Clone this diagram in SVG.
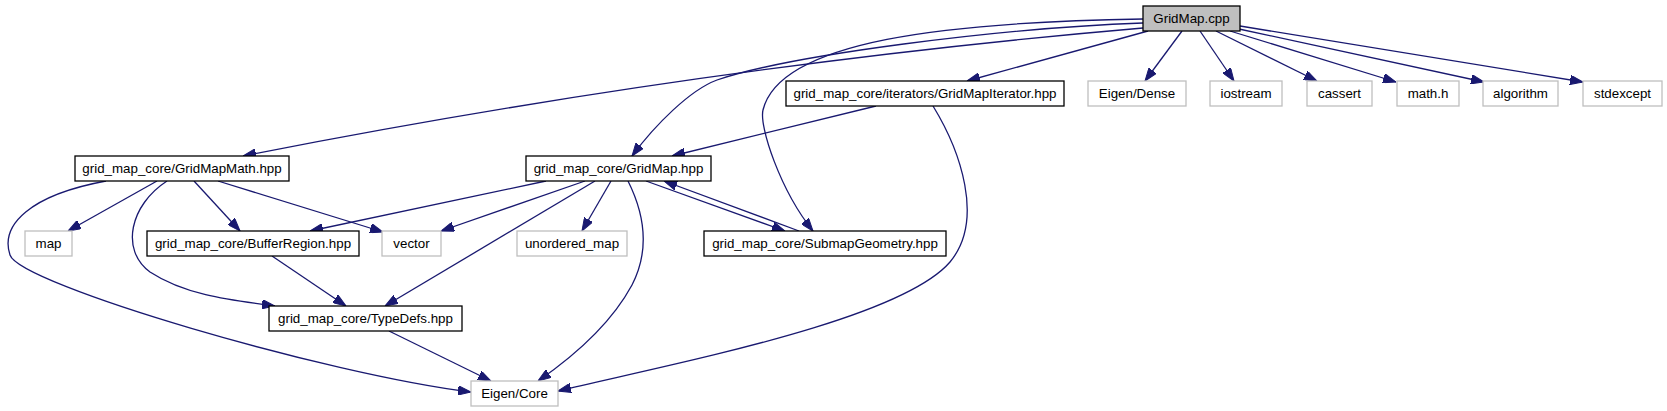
<svg xmlns="http://www.w3.org/2000/svg" width="1667" height="411" viewBox="0 0 1667 411">
<defs>
<style>
.n rect{fill:#ffffff;stroke:#000000;stroke-width:1.3}
.g rect{fill:#ffffff;stroke:#bfbfbf;stroke-width:1.3}
.root rect{fill:#bfbfbf;stroke:#000000;stroke-width:1.3}
text{font-family:"Liberation Sans",Arial,Helvetica,sans-serif;font-size:13.33px;fill:#000000;text-anchor:middle}
.e path{fill:none;stroke:#191970;stroke-width:1.3;marker-end:url(#arr)}
</style>
<marker id="arr" markerUnits="userSpaceOnUse" viewBox="0 0 13 9.4" refX="13" refY="4.7" markerWidth="13" markerHeight="9.4" orient="auto">
<path d="M0,0 L13,4.7 L0,9.4 z" fill="#191970" stroke="#191970" stroke-width="1"/>
</marker>
</defs>
<rect width="1667" height="411" fill="#ffffff"/>
<g id="edges" class="e">
<path d="M1182,31 L1145,81"/>
<path d="M1200,31 L1234,81"/>
<path d="M1216,31 L1317,81"/>
<path d="M1230,31 L1396,82"/>
<path d="M1239,29 L1484,82"/>
<path d="M1240,26 L1583,82"/>
<path d="M1148,31 L967,81"/>
<path d="M1143,28 Q700,66 243,156"/>
<path d="M1143,23 C1000,28 790,55 717,80 C690,90 655,125 632,156"/>
<path d="M1143,19 C950,22 780,40 763,110 C759,126 780,190 813,231"/>
<path d="M876,106 L672,156"/>
<path d="M933,106 C960,150 985,220 950,262 C900,320 680,362 558,391"/>
<path d="M157,181 L68,231"/>
<path d="M194,181 L240,231"/>
<path d="M218,181 L383,232"/>
<path d="M167,181 C130,205 120,250 150,272 C185,295 230,300 275,306"/>
<path d="M106,181 C30,195 0,225 10,255 C20,285 330,375 471,392"/>
<path d="M546,181 L310,231"/>
<path d="M585,181 L441,231"/>
<path d="M611,181 L582,231"/>
<path d="M595,181 L385,306"/>
<path d="M628,181 C645,215 650,250 632,285 C612,322 580,352 538,381"/>
<path d="M646,181 L785,231"/>
<path d="M799,231 L664,181"/>
<path d="M272,256 L346,306"/>
<path d="M389,331 L491,381"/>
</g>
<g id="n_cpp" class="root"><rect x="1143" y="6" width="97" height="25"/><text x="1191.5" y="23">GridMap.cpp</text></g>
<g id="n_iter" class="n"><rect x="786" y="81" width="278" height="25"/><text x="925" y="98">grid_map_core/iterators/GridMapIterator.hpp</text></g>
<g id="n_dense" class="g"><rect x="1088" y="81" width="98" height="25"/><text x="1137" y="98">Eigen/Dense</text></g>
<g id="n_iostream" class="g"><rect x="1210" y="81" width="72" height="25"/><text x="1246" y="98">iostream</text></g>
<g id="n_cassert" class="g"><rect x="1307" y="81" width="65" height="25"/><text x="1339.5" y="98">cassert</text></g>
<g id="n_math" class="g"><rect x="1397" y="81" width="62" height="25"/><text x="1428" y="98">math.h</text></g>
<g id="n_algorithm" class="g"><rect x="1483" y="81" width="75" height="25"/><text x="1520.5" y="98">algorithm</text></g>
<g id="n_stdexcept" class="g"><rect x="1583" y="81" width="79" height="25"/><text x="1622.5" y="98">stdexcept</text></g>
<g id="n_gmmath" class="n"><rect x="75" y="156" width="214" height="25"/><text x="182" y="173">grid_map_core/GridMapMath.hpp</text></g>
<g id="n_gmhpp" class="n"><rect x="526" y="156" width="185" height="25"/><text x="618.5" y="173">grid_map_core/GridMap.hpp</text></g>
<g id="n_map" class="g"><rect x="25" y="231" width="47" height="25"/><text x="48.5" y="248">map</text></g>
<g id="n_buffer" class="n"><rect x="147" y="231" width="212" height="25"/><text x="253" y="248">grid_map_core/BufferRegion.hpp</text></g>
<g id="n_vector" class="g"><rect x="382" y="231" width="59" height="25"/><text x="411.5" y="248">vector</text></g>
<g id="n_umap" class="g"><rect x="517" y="231" width="110" height="25"/><text x="572" y="248">unordered_map</text></g>
<g id="n_submap" class="n"><rect x="704" y="231" width="242" height="25"/><text x="825" y="248">grid_map_core/SubmapGeometry.hpp</text></g>
<g id="n_typedefs" class="n"><rect x="269" y="306" width="193" height="25"/><text x="365.5" y="323">grid_map_core/TypeDefs.hpp</text></g>
<g id="n_core" class="g"><rect x="471" y="381" width="87" height="25"/><text x="514.5" y="398">Eigen/Core</text></g>
</svg>
